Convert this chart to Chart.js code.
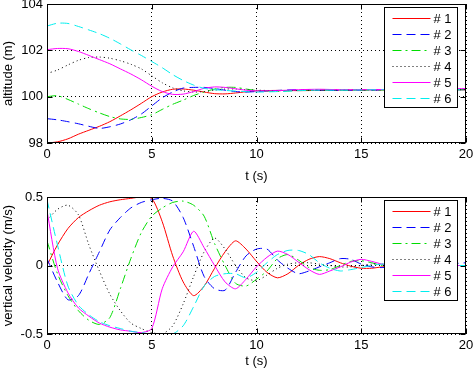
<!DOCTYPE html>
<html>
<head>
<meta charset="utf-8">
<script src="https://cdn.jsdelivr.net/npm/chart.js@4/dist/chart.umd.min.js"></script>
<style>
    html, body { margin: 0; padding: 0; background: #fff; overflow: hidden; width: 474px; height: 369px; }
    canvas { position: absolute; left: 0; }
    #altChart { top: 0; }
    #velChart { top: 184px; }
</style>
</head>
<body>
<canvas id="altChart" width="490" height="184"></canvas>
<canvas id="velChart" width="490" height="185"></canvas>
<script>
// time axis, altitude plot
const tAlt = [0, 0.5, 1, 1.5, 2, 2.5, 3, 3.5, 4, 4.5, 5, 5.5, 6, 6.5, 7, 7.5, 8, 8.5, 9, 9.5, 10,
    11, 12, 13, 14, 15, 16, 17, 18, 19, 20];

const alt1 = [98.0, 98.05, 98.18, 98.38, 98.55, 98.72, 98.92, 99.17, 99.43, 99.71, 100.0,
    100.2, 100.32, 100.33, 100.28, 100.2, 100.13, 100.12, 100.16, 100.21, 100.25,
    100.27, 100.26, 100.27, 100.28, 100.29, 100.29, 100.3, 100.3, 100.3, 100.3];
const alt2 = [99.05, 99.0, 98.92, 98.83, 98.72, 98.63, 98.7, 98.82, 99.0, 99.25, 99.6,
    99.95, 100.2, 100.37, 100.4, 100.4, 100.35, 100.28, 100.22, 100.2, 100.22,
    100.27, 100.3, 100.28, 100.27, 100.28, 100.29, 100.3, 100.3, 100.3, 100.3];
const alt3 = [100.0, 100.04, 99.88, 99.68, 99.48, 99.3, 99.14, 99.04, 99.02, 99.1, 99.22,
    99.45, 99.67, 99.85, 100.05, 100.2, 100.33, 100.4, 100.4, 100.33, 100.27,
    100.23, 100.27, 100.3, 100.28, 100.28, 100.29, 100.3, 100.3, 100.3, 100.3];
const alt4 = [101.0, 101.15, 101.37, 101.57, 101.69, 101.71, 101.66, 101.55, 101.4, 101.2, 100.9,
    100.6, 100.38, 100.25, 100.2, 100.22, 100.28, 100.33, 100.33, 100.3, 100.28,
    100.26, 100.27, 100.28, 100.29, 100.29, 100.3, 100.3, 100.3, 100.3, 100.3];
const alt5 = [102.03, 102.08, 102.07, 101.95, 101.78, 101.6, 101.42, 101.2, 100.98, 100.73, 100.45,
    100.22, 100.1, 100.11, 100.22, 100.36, 100.42, 100.4, 100.34, 100.28, 100.25,
    100.26, 100.3, 100.32, 100.3, 100.3, 100.31, 100.32, 100.33, 100.34, 100.35];
const alt6 = [103.05, 103.17, 103.16, 103.03, 102.88, 102.72, 102.52, 102.28, 102.02, 101.78, 101.52,
    101.25, 100.95, 100.7, 100.5, 100.36, 100.3, 100.27, 100.24, 100.22, 100.2,
    100.22, 100.26, 100.28, 100.28, 100.29, 100.3, 100.3, 100.3, 100.3, 100.3];

// time axis, vertical velocity plot
const tVel = [0, 0.5, 1, 1.5, 2, 2.5, 3, 3.5, 4, 4.5, 5, 5.5, 6, 6.5, 7, 7.5, 8, 8.5, 9, 9.5, 10,
    10.5, 11, 11.5, 12, 12.5, 13, 13.5, 14, 14.5, 15, 15.5, 16, 17, 18, 19, 20];

const vel1 = [0, 0.15, 0.27, 0.35, 0.40, 0.44, 0.465, 0.48, 0.49, 0.5, 0.49,
    0.32, 0.07, -0.12, -0.22, -0.15, -0.02, 0.1, 0.18, 0.12, 0.03,
    -0.05, -0.09, -0.06, 0.0, 0.045, 0.065, 0.05, 0.02, -0.005, -0.02,
    -0.02, -0.01, 0, 0, 0, 0];
const vel2 = [0.05, -0.12, -0.25, -0.22, -0.06, 0.1, 0.26, 0.35, 0.42, 0.46, 0.48,
    0.49, 0.47, 0.35, 0.14, -0.08, -0.17, -0.18, -0.05, 0.07, 0.12,
    0.12, 0.04, -0.02, -0.06, -0.04, -0.01, 0.02, 0.05, 0.045, 0.01,
    -0.01, -0.015, 0, 0.01, 0.01, 0.02];
const vel3 = [0.18, -0.06, -0.22, -0.33, -0.4, -0.43, -0.38, -0.17, 0.05, 0.24, 0.36,
    0.42, 0.46, 0.47, 0.44, 0.36, 0.16, 0.0, -0.13, -0.15, -0.1,
    -0.04, 0.05, 0.08, 0.04, -0.015, -0.035, -0.03, 0.0, 0.03, 0.035,
    0.02, 0.0, -0.01, 0, 0, 0];
const vel4 = [0.33, 0.41, 0.44, 0.37, 0.15, -0.04, -0.21, -0.33, -0.42, -0.46, -0.49,
    -0.5, -0.44, -0.28, -0.08, 0.1, 0.2, 0.12, 0.0, -0.09, -0.11,
    -0.07, -0.02, 0.01, 0.02, 0.02, 0.01, 0, -0.01, -0.01, 0,
    0.01, 0.01, 0, 0, 0, 0];
const vel5 = [0.40, -0.02, -0.2, -0.31, -0.37, -0.42, -0.45, -0.47, -0.48, -0.49, -0.46,
    -0.17, -0.01, 0.1, 0.25, 0.13, 0.0, -0.12, -0.17, -0.1, -0.01,
    0.06, 0.105, 0.08, 0.025, -0.03, -0.065, -0.04, -0.01, 0.025, 0.045,
    0.03, 0.01, -0.01, 0, 0, 0];
const vel6 = [0.48, 0.15, -0.15, -0.29, -0.36, -0.41, -0.44, -0.46, -0.48, -0.49, -0.5,
    -0.5, -0.5, -0.44, -0.3, -0.15, -0.08, -0.06, -0.06, -0.09, -0.05,
    0.02, 0.08, 0.11, 0.11, 0.08, 0.02, -0.02, -0.04, -0.03, -0.015,
    0.0, 0.01, 0.01, 0, 0, 0];

const seriesLabels = ['# 1', '# 2', '# 3', '# 4', '# 5', '# 6'];
const xTicks = [0, 5, 10, 15, 20];
const altTicks = [98, 100, 102, 104];
const velTicks = [-0.5, 0, 0.5];

const lineColors = ['#ff0000', '#0000ff', '#00dd00', '#000000', '#ff00ff', '#00eeee'];
const lineDashes = [[], [9, 5], [9, 4, 2, 4], [1, 3], [], [9, 5]];

Chart.defaults.font.family = '"Liberation Sans", Arial, sans-serif';
Chart.defaults.font.size = 13;
Chart.defaults.color = '#000';

function makeSets(t, series) {
    return series.map((vals, i) => ({
        label: seriesLabels[i],
        data: vals.map((v, k) => ({ x: t[k], y: v })),
        borderColor: lineColors[i],
        borderDash: lineDashes[i].slice(),
        borderWidth: 1,
        pointRadius: 0,
        tension: 0.25,
        fill: false,
        order: series.length - 1 - i
    }));
}

// рамка и внутренние засечки как в matlab
const frame = {
    id: 'frame',
    afterDatasetsDraw(chart) {
        const { ctx, chartArea: a, scales } = chart;
        const L = Math.round(a.left) + 0.5, R = Math.round(a.right) - 0.5;
        const T = Math.round(a.top) + 0.5, B = Math.round(a.bottom) - 0.5;
        ctx.save();
        ctx.strokeStyle = '#000';
        ctx.lineWidth = 1;
        ctx.setLineDash([]);
        ctx.strokeRect(L, T, R - L, B - T);
        ctx.beginPath();
        scales.x.ticks.forEach(t => {
            const px = Math.round(scales.x.getPixelForValue(t.value)) + 0.5;
            ctx.moveTo(px, B); ctx.lineTo(px, B - 5);
            ctx.moveTo(px, T); ctx.lineTo(px, T + 5);
        });
        scales.y.ticks.forEach(t => {
            const py = Math.round(scales.y.getPixelForValue(t.value)) + 0.5;
            ctx.moveTo(L, py); ctx.lineTo(L + 5, py);
            ctx.moveTo(R, py); ctx.lineTo(R - 5, py);
        });
        ctx.stroke();
        ctx.restore();
    }
};

// легенда в правом верхнем углу
const boxLegend = {
    id: 'boxLegend',
    afterDraw(chart) {
        const { ctx, chartArea: a } = chart;
        const bw = 73, bh = 100;
        const bx = Math.round(a.right) - 9 - bw + 0.5;
        const by = Math.round(a.top) + 3 + 0.5;
        ctx.save();
        ctx.setLineDash([]);
        ctx.lineWidth = 1;
        ctx.strokeStyle = '#000';
        ctx.fillStyle = '#fff';
        ctx.fillRect(bx, by, bw, bh);
        ctx.strokeRect(bx, by, bw, bh);
        ctx.font = '13px "Liberation Sans", Arial, sans-serif';
        ctx.textBaseline = 'middle';
        ctx.textAlign = 'left';
        chart.data.datasets.forEach((ds, i) => {
            const y = Math.round(by + 10 + i * 16.1);
            ctx.strokeStyle = lineColors[i];
            ctx.lineWidth = 1;
            ctx.setLineDash(lineDashes[i]);
            ctx.beginPath();
            ctx.moveTo(bx + 8, y + 0.5);
            ctx.lineTo(bx + 46, y + 0.5);
            ctx.stroke();
            ctx.fillStyle = '#000';
            ctx.fillText(ds.label, bx + 49, y + 1.5);
        });
        ctx.restore();
    }
};

function makeOptions(yMin, yMax, yTickList, yTitle, padTop, xHeight, titleBottom) {
    return {
        responsive: false,
        animation: false,
        layout: { padding: { top: padTop, right: 24, bottom: 0, left: 0 } },
        plugins: { legend: { display: false }, tooltip: { enabled: false } },
        scales: {
            x: {
                type: 'linear', min: 0, max: 20,
                afterBuildTicks: s => { s.ticks = xTicks.map(v => ({ value: v })); },
                ticks: { padding: 4, color: '#000' },
                grid: { color: '#000', lineWidth: 1, drawTicks: false },
                border: { display: false, dash: [1, 3] },
                title: { display: true, text: 't (s)', color: '#000', padding: { top: 0, bottom: titleBottom } },
                afterFit: s => { s.height = xHeight; s.paddingLeft = 0; s.paddingRight = 0; }
            },
            y: {
                type: 'linear', min: yMin, max: yMax,
                afterBuildTicks: s => { s.ticks = yTickList.map(v => ({ value: v })); },
                ticks: { padding: 4, color: '#000' },
                grid: { color: '#000', lineWidth: 1, drawTicks: false },
                border: { display: false, dash: [1, 3] },
                title: { display: true, text: yTitle, color: '#000', padding: { top: 1, bottom: 0 } },
                afterFit: s => { s.width = 47; s.paddingTop = 0; s.paddingBottom = 0; }
            }
        }
    };
}

new Chart(document.getElementById('altChart'), {
    type: 'line',
    data: { datasets: makeSets(tAlt, [alt1, alt2, alt3, alt4, alt5, alt6]) },
    options: makeOptions(98, 104, altTicks, 'altitude (m)', 4, 41, 0),
    plugins: [frame, boxLegend]
});

new Chart(document.getElementById('velChart'), {
    type: 'line',
    data: { datasets: makeSets(tVel, [vel1, vel2, vel3, vel4, vel5, vel6]) },
    options: makeOptions(-0.5, 0.5, velTicks, 'vertical velocity (m/s)', 13, 35, 0),
    plugins: [frame, boxLegend]
});
</script>
</body>
</html>
